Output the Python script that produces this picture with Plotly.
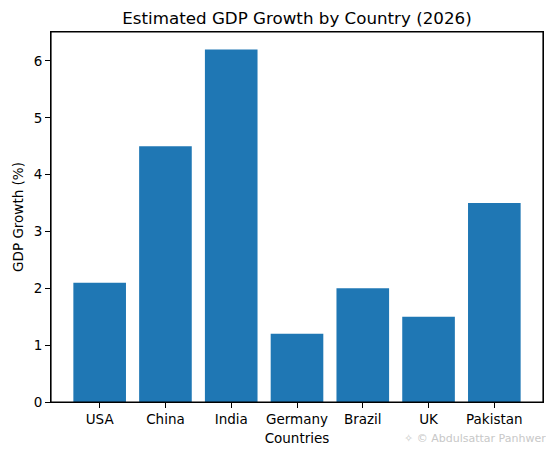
import plotly.graph_objects as go

countries = ["USA", "China", "India", "Germany", "Brazil", "UK", "Pakistan"]
growth = [2.1, 4.5, 6.2, 1.2, 2.0, 1.5, 3.5]

font = "DejaVu Sans"
W, H = 546, 447  # page body has an 8px margin
fig = go.Figure(go.Bar(x=list(range(len(countries))), y=growth, width=0.8,
                       marker=dict(color="#1f77b4", line=dict(width=0))))

fig.update_layout(
    width=W, height=H,
    margin=dict(l=40, r=10, t=24, b=53),
    paper_bgcolor="white", plot_bgcolor="white",
    font=dict(family=font, size=13.5, color="black"),
    showlegend=False,
    title=dict(text="Estimated GDP Growth by Country (2026)", x=0.5, xanchor="center", xref="paper",
               y=1 - 10 / H, yanchor="middle", font=dict(size=16.7, family=font)),
    shapes=[dict(type="rect", xref="paper", yref="paper", x0=0, x1=1, y0=0, y1=1,
                 line=dict(color="black", width=1.2), layer="above")],
    annotations=[dict(text="✧ © Abdulsattar Panhwer", xref="paper", yref="paper",
                      x=1.0, y=0, xanchor="right", yanchor="middle", showarrow=False,
                      font=dict(size=11, color="#c8c8c8", family=font), xshift=5, yshift=-36)],
)
fig.update_xaxes(range=[-0.74, 6.74], tickvals=list(range(len(countries))), ticktext=countries,
                 showgrid=False, zeroline=False, showline=True, mirror=True, linecolor="black",
                 ticks="outside", ticklen=5, tickcolor="black",
                 title=dict(text="Countries", font=dict(size=13.5), standoff=7),
                 tickfont=dict(size=13.5))
fig.update_yaxes(range=[0, 6.51], dtick=1, showgrid=False, zeroline=False, showline=True,
                 mirror=True, linecolor="black", ticks="outside", ticklen=5,
                 tickcolor="black", title=dict(text="GDP Growth (%)", font=dict(size=13.5), standoff=6),
                 tickfont=dict(size=13.5))
fig.write_html("out.html")
